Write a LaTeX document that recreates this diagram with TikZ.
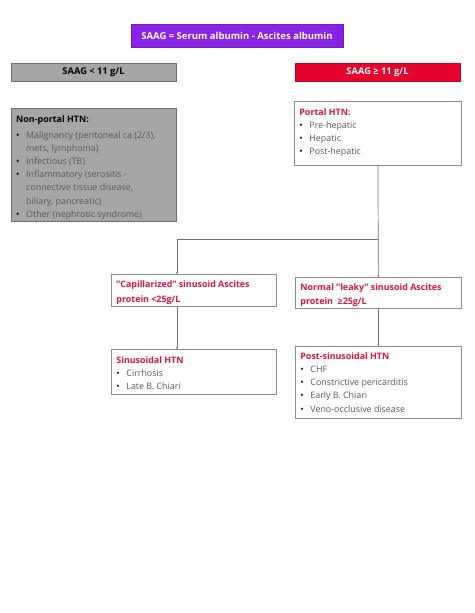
\documentclass[tikz,border=0pt]{standalone}
\usepackage{fontspec}
\setmainfont{Open Sans}
\usetikzlibrary{arrows.meta,calc}
\definecolor{purp}{HTML}{8A22E6}
\definecolor{redbox}{HTML}{E4032C}
\definecolor{redtxt}{HTML}{DC143C}
\definecolor{grayfill}{HTML}{A6A6A6}
\definecolor{grayline}{HTML}{6E6E6E}
\definecolor{boxline}{HTML}{8C8C8C}
\definecolor{bodytxt}{HTML}{595959}
\definecolor{conn}{HTML}{707070}
\newcommand{\itm}[1]{\par\hangindent=10pt\hangafter=1\noindent\makebox[10pt][l]{\color{black}\textbullet}#1}
\newcommand{\bx}[3]{\parbox[c][#2][t]{#1}{\raggedright\parindent=0pt #3}}
\begin{document}
\begin{tikzpicture}[x=1pt,y=-1pt,
  every node/.style={font=\fontsize{8.9}{13.1}\selectfont},
  titlebox/.style={draw=purp!80!black,fill=purp,text=white,font=\fontsize{9.5}{11}\selectfont\bfseries,minimum width=212pt,minimum height=23pt,inner sep=0pt},
  graybar/.style={draw=grayline,fill=grayfill,text=black,font=\fontsize{9.3}{11}\selectfont\bfseries,minimum width=165pt,minimum height=18pt,inner sep=0pt},
  redbar/.style={draw=redbox!85!black,fill=redbox,text=white,font=\fontsize{9.3}{11}\selectfont\bfseries,minimum width=165pt,minimum height=18pt,inner sep=0pt},
  graybox/.style={draw=grayline,fill=grayfill,text=bodytxt,anchor=north west,inner xsep=5pt},
  whitebox/.style={draw=boxline,line width=0.8pt,fill=white,text=bodytxt,anchor=north west,inner xsep=5pt},
  conline/.style={draw=conn,line width=0.7pt},
  conarrow/.style={conline,-{Stealth[length=2pt,width=2pt]}}
]
\useasboundingbox (0,0) rectangle (474,613);
\fill[white] (0,0) rectangle (474,613);

\node[titlebox] (saag) at (237,35.5) {SAAG = Serum albumin - Ascites albumin};
\node[graybar] (low) at (93.5,72) {SAAG < 11 g/L\hspace{17pt}};
\node[redbar] (high) at (377.5,72) {SAAG ≥ 11 g/L};

\node[graybox,inner ysep=8pt] (np) at (11,108) {\bx{155pt}{97pt}{%
  {\color{black}\bfseries Non-portal HTN:}\par\vspace{2.5pt}
  \itm{Malignancy (peritoneal ca (2/3),\newline mets, lymphoma)}
  \itm{Infectious (TB)}
  \itm{Inflammatory (serositis -\newline connective tissue disease,\newline biliary, pancreatic)}
  \itm{Other (nephrotic syndrome)}}};

\node[whitebox,inner ysep=7.5pt] (portal) at (294,101) {\bx{157pt}{49pt}{%
  {\color{redtxt}\bfseries Portal HTN:}
  \itm{Pre-hepatic}
  \itm{Hepatic}
  \itm{Post-hepatic}}};

\node[whitebox,inner ysep=6pt] (cap) at (111,274) {\bx{155pt}{20pt}{%
  \fontsize{8.9}{15.3}\selectfont{\color{redtxt}\bfseries "Capillarized" sinusoid Ascites\\protein <25g/L}}};

\node[whitebox,inner ysep=6.5pt] (leaky) at (295,277) {\bx{156pt}{18pt}{%
  \fontsize{8.9}{13.4}\selectfont{\color{redtxt}\bfseries Normal "leaky" sinusoid Ascites\\protein \ ≥25g/L}}};

\node[whitebox,inner ysep=7pt] (sin) at (111,349) {\bx{155pt}{31pt}{%
  {\color{redtxt}\bfseries Sinusoidal HTN}
  \itm{Cirrhosis}
  \itm{Late B. Chiari}}};

\node[whitebox,inner ysep=6.5pt] (post) at (295,346) {\bx{156pt}{59pt}{%
  {\color{redtxt}\bfseries Post-sinusoidal HTN}
  \itm{CHF}
  \itm{Constrictive pericarditis}
  \itm{Early B. Chiari}
  \itm{Veno-occlusive disease}}};

\coordinate (split) at (portal.south |- 0,239);
\coordinate (branch) at (177,239);

\draw[conarrow] (portal.south) -- (leaky.north);
\draw[conarrow] (split) -- (branch) -- (branch |- cap.north);
\draw[conarrow] (cap.south -| branch) -- (sin.north -| branch);
\draw[conarrow] (leaky.south) -- (post.north);
\end{tikzpicture}
\end{document}
